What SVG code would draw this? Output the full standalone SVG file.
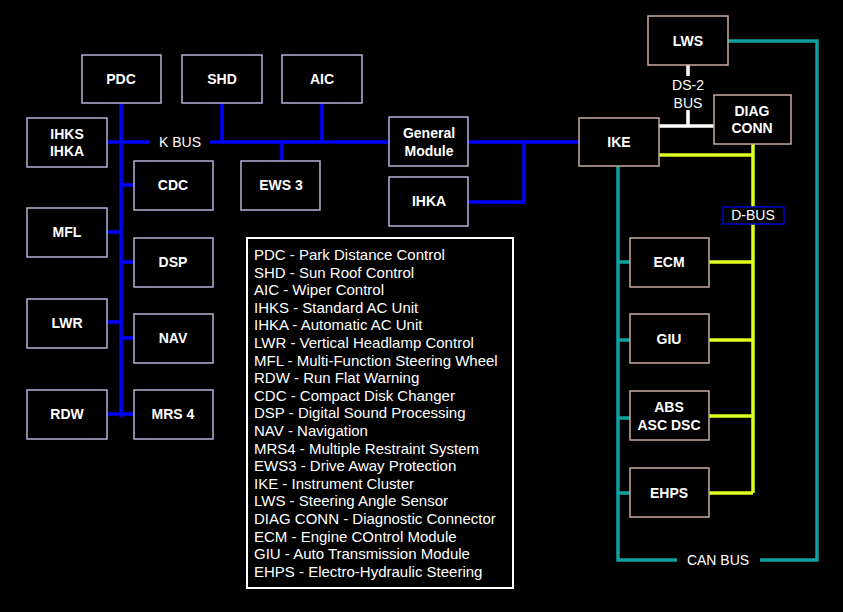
<svg xmlns="http://www.w3.org/2000/svg" width="843" height="612" viewBox="0 0 843 612">
<style>
.n rect{fill:#000;stroke:#b8b0d8;stroke-width:1.5}
.t rect{fill:#000;stroke:#c8aaa0;stroke-width:1.5}
.n text,.t text{fill:#fff;font-family:"Liberation Sans",Arial,sans-serif;font-weight:bold;font-size:14px;text-anchor:middle}
.b{stroke:#0000ff;stroke-width:3.5;fill:none}
.y{stroke:#e0ff20;stroke-width:3.5;fill:none}
.c{stroke:#10a0a0;stroke-width:3.5;fill:none}
.w{stroke:#fff;stroke-width:3.5;fill:none}
.l{fill:#fff;font-family:"Liberation Sans",Arial,sans-serif;font-size:14px}
#legend text{font-size:15px}
</style>
<rect width="843" height="612" fill="#000"/>
<g id="connectors">
<path class="b" d="M121 103V417M107 142H150M210 142H389M222 103V142M322 103V142M282 142V161M121 185H134M107 232H121M121 262H134M107 322H121M121 338H134M107 414H134M468 142H579M524 142V202H468"/>
<path class="w" d="M688 65V76M688 110V126M659 126H714"/>
<path class="y" d="M659 155H753M753 144V493M709 262H753M709 340H753M709 416H753M709 493H753"/>
<path class="c" d="M728 41H817V560H760M677 560H618V166M618 262H630M618 340H630M618 418H630M618 493H630"/>
<text class="l" x="180" y="147" text-anchor="middle">K BUS</text>
<text class="l" x="688" y="90" text-anchor="middle">DS-2</text>
<text class="l" x="688" y="108" text-anchor="middle">BUS</text>
<rect x="723" y="207" width="61" height="17" fill="#000" stroke="#0000cc" stroke-width="1.5"/>
<text class="l" x="753" y="220" text-anchor="middle">D-BUS</text>
<text class="l" x="718" y="565" text-anchor="middle">CAN BUS</text>
</g>
<g id="PDC" class="n"><rect x="82" y="55" width="79" height="48"/><text x="121" y="84">PDC</text></g>
<g id="SHD" class="n"><rect x="182" y="55" width="80" height="48"/><text x="222" y="84">SHD</text></g>
<g id="AIC" class="n"><rect x="282" y="55" width="80" height="48"/><text x="322" y="84">AIC</text></g>
<g id="IHKS" class="n"><rect x="27" y="118" width="80" height="49"/><text x="67" y="139">IHKS</text><text x="67" y="156">IHKA</text></g>
<g id="CDC" class="n"><rect x="134" y="161" width="79" height="49"/><text x="173" y="190">CDC</text></g>
<g id="EWS3" class="n"><rect x="241" y="161" width="79" height="49"/><text x="281" y="190">EWS 3</text></g>
<g id="MFL" class="n"><rect x="27" y="208" width="80" height="49"/><text x="67" y="237">MFL</text></g>
<g id="DSP" class="n"><rect x="134" y="238" width="79" height="49"/><text x="173" y="267">DSP</text></g>
<g id="LWR" class="n"><rect x="27" y="299" width="80" height="49"/><text x="67" y="328">LWR</text></g>
<g id="NAV" class="n"><rect x="134" y="314" width="79" height="49"/><text x="173" y="343">NAV</text></g>
<g id="RDW" class="n"><rect x="27" y="390" width="80" height="49"/><text x="67" y="419">RDW</text></g>
<g id="MRS4" class="n"><rect x="134" y="390" width="79" height="49"/><text x="173" y="419">MRS 4</text></g>
<g id="GM" class="n"><rect x="389" y="117" width="79" height="49"/><text x="429" y="138">General</text><text x="429" y="156">Module</text></g>
<g id="IHKA" class="n"><rect x="389" y="177" width="79" height="49"/><text x="429" y="206">IHKA</text></g>
<g id="IKE" class="t"><rect x="579" y="118" width="80" height="48"/><text x="619" y="147">IKE</text></g>
<g id="LWS" class="t"><rect x="648" y="16" width="80" height="49"/><text x="688" y="46">LWS</text></g>
<g id="DIAG" class="t"><rect x="714" y="95" width="77" height="49"/><text x="752" y="116">DIAG</text><text x="752" y="133">CONN</text></g>
<g id="ECM" class="t"><rect x="630" y="238" width="79" height="49"/><text x="669" y="267">ECM</text></g>
<g id="GIU" class="t"><rect x="630" y="314" width="79" height="49"/><text x="669" y="344">GIU</text></g>
<g id="ABS" class="t"><rect x="630" y="391" width="79" height="49"/><text x="669" y="412">ABS</text><text x="669" y="430">ASC DSC</text></g>
<g id="EHPS" class="t"><rect x="630" y="468" width="79" height="49"/><text x="669" y="498">EHPS</text></g>
<g id="legend">
<rect x="247" y="238" width="266" height="350" fill="#000" stroke="#fff" stroke-width="2"/>
<text class="l" x="254" y="260">PDC - Park Distance Control</text>
<text class="l" x="254" y="277.6">SHD - Sun Roof Control</text>
<text class="l" x="254" y="295.2">AIC - Wiper Control</text>
<text class="l" x="254" y="312.8">IHKS - Standard AC Unit</text>
<text class="l" x="254" y="330.4">IHKA - Automatic AC Unit</text>
<text class="l" x="254" y="348">LWR - Vertical Headlamp Control</text>
<text class="l" x="254" y="365.6">MFL - Multi-Function Steering Wheel</text>
<text class="l" x="254" y="383.2">RDW - Run Flat Warning</text>
<text class="l" x="254" y="400.8">CDC - Compact Disk Changer</text>
<text class="l" x="254" y="418.4">DSP - Digital Sound Processing</text>
<text class="l" x="254" y="436">NAV - Navigation</text>
<text class="l" x="254" y="453.6">MRS4 - Multiple Restraint System</text>
<text class="l" x="254" y="471.2">EWS3 - Drive Away Protection</text>
<text class="l" x="254" y="488.8">IKE - Instrument Cluster</text>
<text class="l" x="254" y="506.4">LWS - Steering Angle Sensor</text>
<text class="l" x="254" y="524">DIAG CONN - Diagnostic Connector</text>
<text class="l" x="254" y="541.6">ECM - Engine COntrol  Module</text>
<text class="l" x="254" y="559.2">GIU - Auto Transmission Module</text>
<text class="l" x="254" y="576.8">EHPS - Electro-Hydraulic Steering</text>
</g>
</svg>
